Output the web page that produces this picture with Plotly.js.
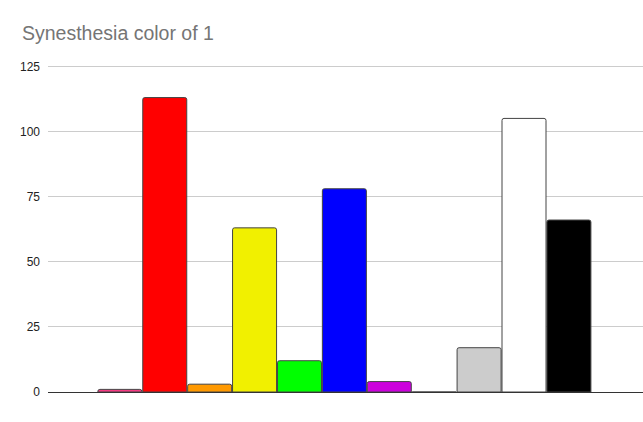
<!DOCTYPE html>
<html>
<head>
<meta charset="utf-8">
<script src="https://cdn.plot.ly/plotly-3.0.1.min.js"></script>
<style>html,body{margin:0;padding:0;background:#fff;}#chart{width:643px;height:422px;}</style>
</head>
<body>
<div id="chart"></div>
<script>
// Data
const categories = ["Pink", "Red", "Orange", "Yellow", "Green", "Blue", "Purple", "Brown", "Grey", "White", "Black"];
const counts = [1, 113, 3, 63, 12, 78, 4, 0, 17, 105, 66];
const yTicks = [0, 25, 50, 75, 100, 125];

// Styles
const barColors = ["#f53b83", "#ff0000", "#ff9900", "#f1f000", "#00ff00", "#0000ff", "#cc00dd", "#8b5a2b", "#cccccc", "#ffffff", "#000000"];

const trace = {
  type: "bar",
  x: categories,
  y: counts,
  marker: {
    color: barColors,
    line: { color: "#444444", width: 1 },
    cornerradius: 2
  },
  hoverinfo: "x+y"
};

const layout = {
  width: 643,
  height: 422,
  margin: { l: 48, r: 0, t: 65, b: 30, pad: 0 },
  paper_bgcolor: "#ffffff",
  plot_bgcolor: "#ffffff",
  showlegend: false,
  bargap: 0.02,
  font: { family: "Liberation Sans, Arial, sans-serif", size: 12, color: "#222222" },
  title: {
    text: "Synesthesia color of 1",
    font: { family: "Liberation Sans, Arial, sans-serif", size: 19.5, color: "#757575" },
    xref: "container", x: 22 / 643, xanchor: "left",
    yref: "container", y: 1 - 33 / 422, yanchor: "middle"
  },
  xaxis: {
    type: "category",
    range: [-1.6, 11.65],
    showticklabels: false,
    showgrid: false,
    zeroline: false,
    showline: false,
    ticks: ""
  },
  yaxis: {
    range: [0, 125.5],
    tickvals: yTicks,
    ticktext: yTicks.map(String),
    showgrid: true,
    gridcolor: "#cccccc",
    gridwidth: 1,
    zeroline: true,
    zerolinecolor: "#333333",
    zerolinewidth: 1,
    showline: false,
    ticks: "",
    ticklabelstandoff: 7,
    tickfont: { family: "Liberation Sans, Arial, sans-serif", size: 12, color: "#222222" }
  }
};

Plotly.newPlot("chart", [trace], layout, { displayModeBar: false, staticPlot: true });
</script>
</body>
</html>
